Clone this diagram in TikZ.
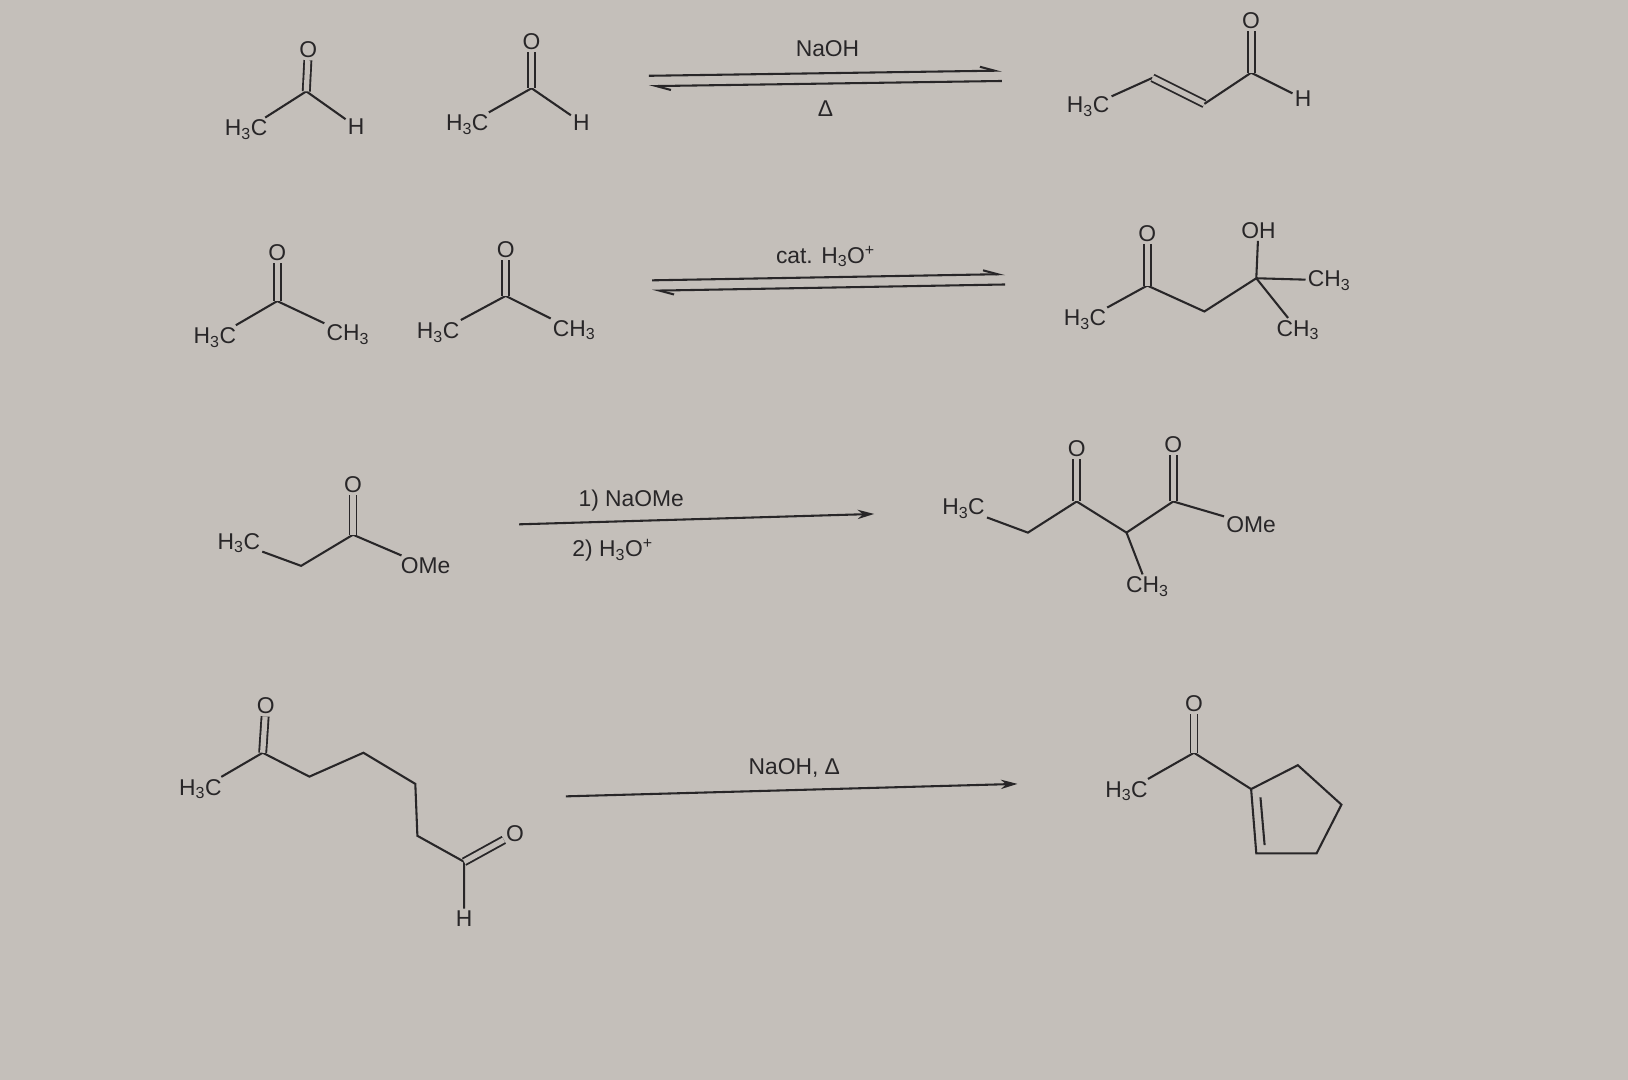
\documentclass[tikz,border=0pt]{standalone}
\usepackage{fontspec}
\setmainfont{Liberation Sans}
\usetikzlibrary{arrows.meta}
\definecolor{bg}{RGB}{196,191,186}
\definecolor{ink}{RGB}{40,38,40}
\tikzset{
 bond/.style={draw=ink,line width=2pt},
 dbl/.style={draw=ink,line width=1.8pt,double=bg,double distance=5pt},
 atom/.style={text=ink,font=\fontsize{22}{24}\selectfont,inner sep=2pt},
 lab/.style={text=ink,font=\fontsize{22}{24}\selectfont,inner sep=2pt},
 arr/.style={draw=ink,line width=2pt,-{Stealth[length=16pt,width=9pt]}},
 harp/.style={draw=ink,line width=2pt,-{Straight Barb[left,length=14pt,width=8pt]}}
}
\newcommand{\HHC}{H\textsubscript{3}C}
\newcommand{\CHH}{CH\textsubscript{3}}
\begin{document}
\begin{tikzpicture}[x=1pt,y=-1pt]
\fill[bg] (0,0) rectangle (1568,1040);
\useasboundingbox (0,0) rectangle (1568,1040);
% Row 1
\node[atom] (a1) at (237,125) {\HHC}; \coordinate (a2) at (295,88);
\node[atom] (a3) at (297,48) {O}; \node[atom] (a4) at (343,122) {H};
\draw[bond] (a1) -- (a2) -- (a4); \draw[dbl] (a2) -- (a3);
\node[atom] (b1) at (450,120) {\HHC}; \coordinate (b2) at (512,85);
\node[atom] (b3) at (512,40) {O}; \node[atom] (b4) at (560,118) {H};
\draw[bond] (b1) -- (b2) -- (b4); \draw[dbl] (b2) -- (b3);
\coordinate (e1a) at (625,73); \coordinate (e1b) at (965,68);
\coordinate (e1c) at (965,78); \coordinate (e1d) at (625,83);
\draw[harp] (e1a) -- (e1b); \draw[harp] (e1c) -- (e1d);
\node[lab] (l1) at (797,47) {NaOH}; \node[lab] (l2) at (795,105) {Δ};
\node[atom] (c1) at (1048,103) {\HHC}; \coordinate (c2) at (1110,75);
\coordinate (c3) at (1160,100); \coordinate (c4) at (1205,70);
\node[atom] (c5) at (1205,20) {O}; \node[atom] (c6) at (1255,95) {H};
\draw[bond] (c1) -- (c2); \draw[dbl] (c2) -- (c3); \draw[bond] (c3) -- (c4) -- (c6);
\draw[dbl] (c4) -- (c5);
% Row 2
\node[atom] (d1) at (207,325) {\HHC}; \coordinate (d2) at (267,290);
\node[atom] (d3) at (267,243) {O}; \node[atom] (d4) at (335,322) {\CHH};
\draw[bond] (d1) -- (d2) -- (d4); \draw[dbl] (d2) -- (d3);
\node[atom] (f1) at (422,320) {\HHC}; \coordinate (f2) at (487,285);
\node[atom] (f3) at (487,240) {O}; \node[atom] (f4) at (553,318) {\CHH};
\draw[bond] (f1) -- (f2) -- (f4); \draw[dbl] (f2) -- (f3);
\coordinate (e2a) at (628,270); \coordinate (e2b) at (968,264);
\coordinate (e2c) at (968,274); \coordinate (e2d) at (628,280);
\draw[harp] (e2a) -- (e2b); \draw[harp] (e2c) -- (e2d);
\node[lab] (l3) at (795,247) {cat. H\textsubscript{3}O\textsuperscript{+}};
\node[atom] (g1) at (1045,308) {\HHC}; \coordinate (g2) at (1105,275);
\node[atom] (g3) at (1105,225) {O}; \coordinate (g4) at (1160,300);
\coordinate (g5) at (1210,268); \node[atom] (g6) at (1212,222) {OH};
\node[atom] (g7) at (1280,270) {\CHH}; \node[atom] (g8) at (1250,318) {\CHH};
\draw[bond] (g1) -- (g2) -- (g4) -- (g5) -- (g6); \draw[dbl] (g2) -- (g3);
\draw[bond] (g5) -- (g7); \draw[bond] (g5) -- (g8);
% Row 3
\node[atom] (h1) at (230,523) {\HHC}; \coordinate (h2) at (290,545);
\coordinate (h3) at (340,515); \node[atom] (h4) at (340,467) {O};
\node[atom] (h5) at (410,545) {OMe};
\draw[bond] (h1) -- (h2) -- (h3) -- (h5); \draw[dbl] (h3) -- (h4);
\coordinate (e3a) at (500,505); \coordinate (e3b) at (842,495);
\draw[arr] (e3a) -- (e3b);
\node[lab] (l4) at (608,482) {1) NaOMe}; \node[lab] (l5) at (590,530) {2) H\textsubscript{3}O\textsuperscript{+}};
\node[atom] (k1) at (928,490) {\HHC}; \coordinate (k2) at (990,513);
\coordinate (k3) at (1037,483); \node[atom] (k4) at (1037,432) {O};
\coordinate (k5) at (1085,513); \node[atom] (k6) at (1105,565) {\CHH};
\coordinate (k7) at (1130,483); \node[atom] (k8) at (1130,428) {O};
\node[atom] (k9) at (1205,505) {OMe};
\draw[bond] (k1) -- (k2) -- (k3) -- (k5) -- (k7) -- (k9); \draw[bond] (k5) -- (k6);
\draw[dbl] (k3) -- (k4); \draw[dbl] (k7) -- (k8);
% Row 4
\node[atom] (m1) at (193,760) {\HHC}; \coordinate (m2) at (253,725);
\node[atom] (m3) at (256,680) {O}; \coordinate (m4) at (298,748);
\coordinate (m5) at (350,725); \coordinate (m6) at (400,755);
\coordinate (m7) at (402,805); \coordinate (m8) at (447,830);
\node[atom] (m9) at (496,803) {O}; \node[atom] (m10) at (447,885) {H};
\draw[bond] (m1) -- (m2) -- (m4) -- (m5) -- (m6) -- (m7) -- (m8) -- (m10);
\draw[dbl] (m2) -- (m3); \draw[dbl] (m8) -- (m9);
\coordinate (e4a) at (545,767); \coordinate (e4b) at (980,755);
\draw[arr] (e4a) -- (e4b);
\node[lab] (l6) at (765,740) {NaOH, Δ};
\node[atom] (n1) at (1085,762) {\HHC}; \coordinate (n2) at (1150,725);
\node[atom] (n3) at (1150,678) {O}; \coordinate (r1) at (1205,760);
\coordinate (r2) at (1250,737); \coordinate (r3) at (1292,775);
\coordinate (r4) at (1268,822); \coordinate (r5) at (1210,822);
\draw[bond] (n1) -- (n2) -- (r1); \draw[dbl] (n2) -- (n3);
\draw[bond] (r1) -- (r2) -- (r3) -- (r4) -- (r5) -- cycle;
\coordinate (r1i) at (1214,768); \coordinate (r5i) at (1218,814);
\draw[bond] (r1i) -- (r5i);
\end{tikzpicture}
\end{document}
